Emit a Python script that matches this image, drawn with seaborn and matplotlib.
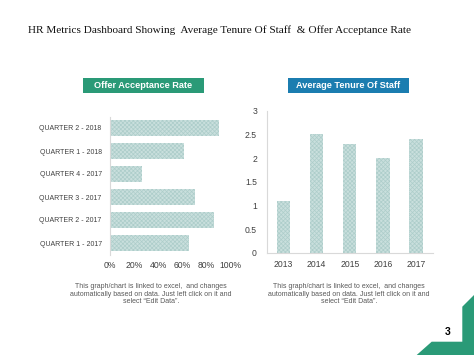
import matplotlib
matplotlib.use("Agg")
import matplotlib.pyplot as plt
import seaborn as sns
import pandas as pd
from matplotlib.patches import Rectangle, Polygon

# ---- data ----
quarters = ["QUARTER 1 - 2017", "QUARTER 2 - 2017", "QUARTER 3 - 2017",
            "QUARTER 4 - 2017", "QUARTER 1 - 2018", "QUARTER 2 - 2018"]
offer_rate = [0.66, 0.87, 0.71, 0.27, 0.62, 0.91]
years = ["2013", "2014", "2015", "2016", "2017"]
tenure = [1.1, 2.5, 2.3, 2.0, 2.4]
pct_ticks = [0, 0.2, 0.4, 0.6, 0.8, 1.0]
pct_labels = ["0%", "20%", "40%", "60%", "80%", "100%"]
tenure_ticks = [0, 0.5, 1, 1.5, 2, 2.5, 3]
tenure_labels = ["0", "0.5", "1", "1.5", "2", "2.5", "3"]

sns.set_theme(style="white")
plt.rcParams["font.family"] = ["Liberation Sans", "DejaVu Sans"]
plt.rcParams["hatch.linewidth"] = 0.5

W, H = 474, 355
fig = plt.figure(figsize=(W / 100, H / 100), dpi=100)
fig.patch.set_facecolor("white")

def fx(x):
    return x / W

def fy(y):
    return 1 - y / H

face = "#c9dfdd"
hatchc = "#adcdca"
spine_c = "#d9d9d9"
tick_c = "#404040"

# ---- left chart ----
ax1 = fig.add_axes([fx(110), fy(254.5), fx(120), 138 / H])
df1 = pd.DataFrame({"quarter": quarters, "rate": offer_rate})
sns.barplot(data=df1, x="rate", y="quarter", order=quarters[::-1], ax=ax1,
            color=face, width=0.73, orient="h")
for p in ax1.patches:
    p.set_facecolor(face)
    p.set_edgecolor(hatchc)
    p.set_hatch("xxxxxxxx")
    p.set_linewidth(0)
ax1.set_xlim(0, 1.0)
ax1.set_xticks(pct_ticks)
ax1.set_xticklabels(pct_labels)
ax1.set_xlabel("")
ax1.set_ylabel("")
for s in ["top", "right", "bottom"]:
    ax1.spines[s].set_visible(False)
ax1.spines["left"].set_color(spine_c)
ax1.spines["left"].set_linewidth(0.8)
ax1.tick_params(axis="both", length=0, colors=tick_c, labelsize=5.0)
ax1.tick_params(axis="x", pad=5, labelsize=6.2)
ax1.tick_params(axis="y", pad=6)
ax1.set_facecolor("white")

# ---- right chart ----
ax2 = fig.add_axes([fx(266.7), fy(252.7), fx(166), 142 / H])
df2 = pd.DataFrame({"year": years, "tenure": tenure})
sns.barplot(data=df2, x="year", y="tenure", ax=ax2, color=face, width=0.4)
for p in ax2.patches:
    p.set_facecolor(face)
    p.set_edgecolor(hatchc)
    p.set_hatch("xxxxxxxx")
    p.set_linewidth(0)
ax2.set_ylim(0, 3)
ax2.set_xlim(-0.5, 4.5)
ax2.set_yticks(tenure_ticks)
ax2.set_yticklabels(tenure_labels)
ax2.set_xlabel("")
ax2.set_ylabel("")
for s in ["top", "right"]:
    ax2.spines[s].set_visible(False)
for s in ["left", "bottom"]:
    ax2.spines[s].set_color(spine_c)
    ax2.spines[s].set_linewidth(0.8)
ax2.tick_params(axis="both", length=0, colors=tick_c, labelsize=6.2)
ax2.tick_params(axis="y", pad=7)
ax2.tick_params(axis="x", pad=5)
ax2.set_facecolor("white")

# ---- title ----
fig.text(fx(28), fy(30), "HR Metrics Dashboard Showing  Average Tenure Of Staff  & Offer Acceptance Rate",
         family=["Liberation Serif", "DejaVu Serif"], fontsize=8.15, color="#111111",
         ha="left", va="center")

# ---- header boxes ----
fig.add_artist(Rectangle((fx(83), fy(93)), fx(121), 15 / H, transform=fig.transFigure,
                         facecolor="#2a9a77", edgecolor="none"))
fig.text(fx(143.5), fy(85.5), "Offer Acceptance Rate", color="white", fontsize=6.6,
         fontweight="bold", ha="center", va="center")
fig.add_artist(Rectangle((fx(288), fy(93)), fx(121), 15 / H, transform=fig.transFigure,
                         facecolor="#1b7db0", edgecolor="none"))
fig.text(fx(348.5), fy(85.5), "Average Tenure Of Staff", color="white", fontsize=6.6,
         fontweight="bold", ha="center", va="center")

# ---- captions ----
caption = ("This graph/chart is linked to excel,  and changes\n"
           "automatically based on data. Just left click on it and\n"
           "select \u201cEdit Data\u201d.")
fig.text(fx(151), fy(294), caption, color="#595959", fontsize=5.0, ha="center",
         va="center", linespacing=1.15)
fig.text(fx(349), fy(294), caption, color="#595959", fontsize=5.0, ha="center",
         va="center", linespacing=1.15)

# ---- decoration ----
fig.add_artist(Polygon([(fx(474), fy(295)), (fx(462.3), fy(306.7)), (fx(462.3), fy(341.7)),
                        (fx(431.7), fy(341.7)), (fx(416.7), fy(355)), (fx(474), fy(355))],
                       closed=True, transform=fig.transFigure, facecolor="#2a9a77",
                       edgecolor="none"))
fig.text(fx(448), fy(332), "3", color="black", fontsize=7.5, fontweight="bold",
         ha="center", va="center")

fig.savefig("out.png", dpi=100)
